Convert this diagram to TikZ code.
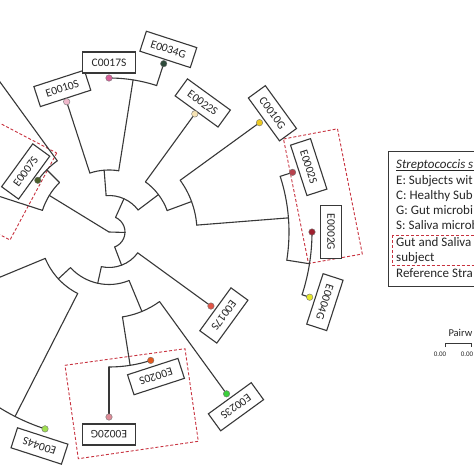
\documentclass[tikz,border=0pt]{standalone}
\usepackage{fontspec}
\setmainfont{Carlito}
\newcommand\rline[3]{\draw[br] ({90-(#1)}:#2) -- ({90-(#1)}:#3);}
\newcommand\rarc[3]{\draw[br] ({90-(#2)}:#1) arc[start angle={90-(#2)}, end angle={90-(#3)}, radius=#1];}
% leaf: name, angle, r0, r1
\newcommand\leafline[4]{\coordinate (b-#1) at ({90-(#2)}:#3); \coordinate (d-#1) at ({90-(#2)}:#4); \draw[br] (b-#1) -- (d-#1);}
% label: name, angle, radius, colour
\newcommand\leaflabel[4]{\node[lbl, rotate={-(#2)}] (t-#1) at ({90-(#2)}:#3) {#1}; \node[leafdot, fill=#4] (p-#1) at (d-#1) {};}
\definecolor{cE0010S}{HTML}{EFB8CB}
\definecolor{cC0017S}{HTML}{D9609A}
\definecolor{cE0034G}{HTML}{2E4A3A}
\definecolor{cE0022S}{HTML}{F6E3B4}
\definecolor{cC0010G}{HTML}{ECC920}
\definecolor{cE0002S}{HTML}{B8434E}
\definecolor{cE0002G}{HTML}{9E1F2E}
\definecolor{cE0004G}{HTML}{E6E82A}
\definecolor{cE0017S}{HTML}{E05548}
\definecolor{cE0023S}{HTML}{3CCF3C}
\definecolor{cE0020S}{HTML}{E35A1E}
\definecolor{cE0020G}{HTML}{DE8C98}
\definecolor{cE0044S}{HTML}{A0E050}
\definecolor{cE0007S}{HTML}{4B5E2B}
\definecolor{grpred}{HTML}{C8323F}
\begin{document}
\begin{tikzpicture}[x=1pt,y=1pt,
  br/.style={draw=black!78, line width=1.1pt, line join=round, line cap=round},
  lbl/.style={draw=black!78, line width=1.1pt, fill=white, minimum width=53pt, minimum height=21pt, inner sep=0pt, font=\fontsize{11.5}{12}\selectfont, text=black!85},
  leafdot/.style={circle, draw=black!55, line width=0.4pt, minimum size=6.5pt, inner sep=0pt},
  grp/.style={draw=grpred, line width=0.9pt, dash pattern=on 3pt off 2pt},
  legtxt/.style={anchor=base west, inner sep=0pt, font=\fontsize{13}{15}\selectfont, text=black!85}]
\useasboundingbox (0,0) rectangle (474,-474);
\clip (0,0) rectangle (474,-474);
\fill[white] (0,0) rectangle (474,-474);

% dashed group frames
\draw[grp] (56.7,-153) -- (10,-240) -- (-96,-184.3) -- (-49.6,-97.3) -- cycle;
\draw[grp] (283.5,-139) -- (337.5,-128.8) -- (362.3,-254) -- (308.5,-263.5) -- cycle;
\draw[grp] (65,-365.3) -- (185,-348.7) -- (198.3,-441.3) -- (78.3,-458.7) -- cycle;

\begin{scope}[shift={(109,-232)}]
  \coordinate (root) at (0,0);
  % root children
  \rline{-58.5}{0}{70}
  \rline{91.7}{0}{16}
  % K
  \rarc{16}{24.2}{159.2}
  \rline{24.2}{16}{36.5}
  \rline{159.2}{16}{35.5}
  % L
  \rarc{36.5}{-4.5}{52.9}
  \rline{-4.5}{36.5}{62}
  \rline{52.9}{36.5}{62}
  % M
  \rarc{62}{-18}{9}
  \leafline{E0010S}{-18}{62}{137}
  \rline{9}{62}{154}
  % N
  \rarc{154}{0}{18}
  \leafline{C0017S}{0}{154}{154}
  \leafline{E0034G}{18}{154}{177}
  % O
  \rarc{62}{36}{69.75}
  \leafline{E0022S}{36}{62}{146}
  \rline{69.75}{62}{88}
  % P
  \rarc{88}{54}{85.5}
  \leafline{C0010G}{54}{88}{186}
  \rline{85.5}{88}{180}
  % Q
  \rarc{180}{72}{99}
  \leafline{E0002S}{72}{180}{193}
  \rline{99}{180}{203}
  % R
  \rarc{203}{90}{108}
  \leafline{E0002G}{90}{203}{203}
  \leafline{E0004G}{108}{203}{211}
  % B
  \rarc{35.5}{126}{192.4}
  \leafline{E0017S}{126}{35.5}{126}
  \rline{192.4}{35.5}{52.5}
  % D
  \rarc{52.5}{157.5}{227.25}
  \rline{157.5}{52.5}{86}
  \rline{227.25}{52.5}{69}
  % E
  \rarc{86}{144}{171}
  \leafline{E0023S}{144}{86}{200}
  \rline{171}{86}{135}
  % S
  \rarc{135}{162}{180}
  \leafline{E0020S}{162}{135}{135}
  \leafline{E0020G}{180}{135}{185}
  % F
  \rarc{69}{207}{247.5}
  \rline{207}{69}{207}
  \rline{247.5}{69}{200}
  % G
  \rarc{207}{198}{216}
  \leafline{E0044S}{198}{207}{207}
  \rline{216}{207}{300}
  % I
  \rarc{70}{-72}{-45}
  \rline{-72}{70}{250}
  \rline{-45}{70}{88}
  % J
  \rarc{88}{-54}{-36}
  \leafline{E0007S}{-54}{88}{88}
  \rline{-36}{88}{300}

  % labels and dots
  \leaflabel{E0010S}{-18}{151}{cE0010S}
  \leaflabel{C0017S}{0}{169.5}{cC0017S}
  \leaflabel{E0034G}{18}{192}{cE0034G}
  \leaflabel{E0022S}{36}{159.5}{cE0022S}
  \leaflabel{C0010G}{54}{202}{cC0010G}
  \leaflabel{E0002S}{72}{210}{cE0002S}
  \leaflabel{E0002G}{90}{222}{cE0002G}
  \leaflabel{E0004G}{108}{227}{cE0004G}
  \leaflabel{E0017S}{126}{142}{cE0017S}
  \leaflabel{E0023S}{144}{216}{cE0023S}
  \leaflabel{E0020S}{162}{152}{cE0020S}
  \leaflabel{E0020G}{180}{202.5}{cE0020G}
  \leaflabel{E0044S}{198}{225}{cE0044S}
  \leaflabel{E0007S}{-54}{103}{cE0007S}
\end{scope}

% legend
\draw[draw=black!78, line width=1pt] (388.7,-151.7) rectangle (490,-286.3);
\node[legtxt] (lg0) at (396,-168) {\itshape Streptococcis s};
\draw[black!85, line width=0.6pt] (396,-170.3) -- (480,-170.3);
\node[legtxt] (lg1) at (396,-184) {E: Subjects wit};
\node[legtxt] (lg2) at (396,-199) {C: Healthy Sub};
\node[legtxt] (lg3) at (396,-214) {G: Gut microbi};
\node[legtxt] (lg4) at (396,-229) {S: Saliva microb};
\draw[grp] (392,-235) rectangle (490,-265.5);
\node[legtxt] (lg5) at (396,-246) {Gut and Saliva};
\node[legtxt] (lg6) at (396,-261) {subject};
\node[legtxt] (lg7) at (396,-277) {Reference Stra};

% scale bar
\node[anchor=base west, inner sep=0pt, font=\fontsize{10.5}{12}\selectfont, text=black!85] (sbt) at (448.3,-336) {Pairw};
\coordinate (sb1) at (445.3,-343);
\coordinate (sb2) at (471.7,-343);
\draw[black!78, line width=0.8pt] ([yshift=-4pt]sb1) -- (sb1) -- (sb2) -- ([yshift=-4pt]sb2);
\node[font=\fontsize{7}{8}\selectfont, inner sep=0pt, text=black!85] (sl1) at (440,-354) {0.00};
\node[font=\fontsize{7}{8}\selectfont, inner sep=0pt, text=black!85] (sl2) at (467,-354) {0.00};
\end{tikzpicture}
\end{document}
